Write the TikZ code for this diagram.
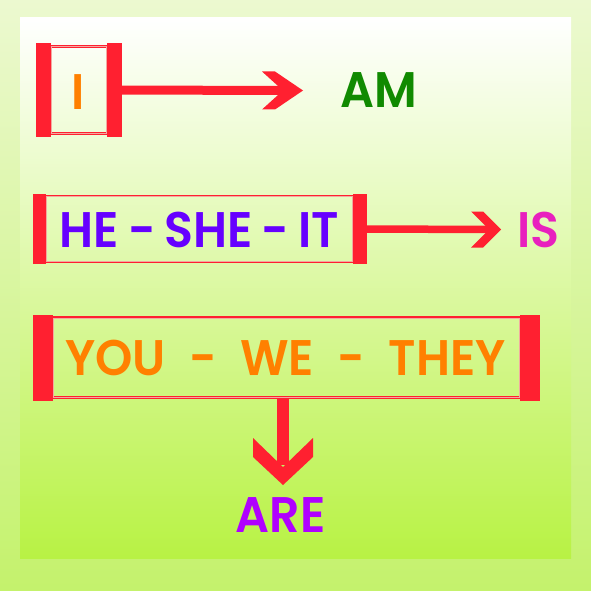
\documentclass[tikz,border=0pt]{standalone}
\usepackage{fontspec}
\setmainfont{Poppins}[BoldFont={* SemiBold}, FakeStretch=0.95]
\begin{document}
\begin{tikzpicture}[x=1pt,y=-1pt]
\definecolor{boxred}{RGB}{255,32,48}
\definecolor{outtop}{RGB}{236,249,208}
\definecolor{outbot}{RGB}{196,242,108}
\definecolor{inbot}{RGB}{184,242,68}
\definecolor{thinpink}{RGB}{242,170,160}
\definecolor{cI}{RGB}{255,128,0}
\definecolor{cAM}{RGB}{16,138,0}
\definecolor{cHE}{RGB}{102,0,255}
\definecolor{cIS}{RGB}{232,32,190}
\definecolor{cYOU}{RGB}{255,128,0}
\definecolor{cARE}{RGB}{176,0,255}
\tikzset{
  frame/.style={draw=boxred, line width=#1, inner sep=0pt, text depth=0pt},
  word/.style={inner sep=0pt, font=\bfseries\fontsize{50}{50}\selectfont, text height=35pt, text depth=0pt},
  conn/.style={draw=boxred, line cap=butt},
  thin/.style={draw=thinpink, line width=0.8pt}
}
\useasboundingbox (0,0) rectangle (591,591);
\shade[top color=outtop, bottom color=outbot] (0,0) rectangle (591,591);
\shade[top color=white, bottom color=inbot] (20,18) rectangle (571,558);

% box I  (outer 37-120 x 45-135)
\node[frame=3pt, minimum width=80pt, minimum height=87pt] (boxI) at (78.5,90) {};
\fill[boxred] ([xshift=-1.5pt,yshift=1.5pt]boxI.north west) rectangle ([xshift=13.5pt,yshift=-1.5pt]boxI.south west);
\fill[boxred] ([xshift=1.5pt,yshift=1.5pt]boxI.north east) rectangle ([xshift=-13.5pt,yshift=-1.5pt]boxI.south east);
\draw[thin] ([xshift=13.9pt,yshift=-1.9pt]boxI.north west) rectangle ([xshift=-13.9pt,yshift=1.9pt]boxI.south east);
\node[word, text=cI] (wI) at (78.5,92.5) {I};

% box II (outer 34-366 x 195-263)
\node[frame=2pt, minimum width=330pt, minimum height=66pt] (boxII) at (200,229) {};
\fill[boxred] ([xshift=-1pt,yshift=1pt]boxII.north west) rectangle ([xshift=12pt,yshift=-1pt]boxII.south west);
\fill[boxred] ([xshift=1pt,yshift=1pt]boxII.north east) rectangle ([xshift=-13pt,yshift=-1pt]boxII.south east);
\draw[thin] ([xshift=12.4pt,yshift=-1.4pt]boxII.north west) rectangle ([xshift=-13.4pt,yshift=1.4pt]boxII.south east);
\node[word, text=cHE] (wHE) at (199.5,230) {HE\hspace{9pt}-\hspace{9pt}SHE\hspace{9pt}-\hspace{9pt}IT};

% box III (outer 34-538 x 316-399)
\node[frame=3pt, minimum width=501pt, minimum height=80pt] (boxIII) at (286,357.5) {};
\fill[boxred] ([xshift=-1.5pt,yshift=1.5pt]boxIII.north west) rectangle ([xshift=18.5pt,yshift=-1.5pt]boxIII.south west);
\fill[boxred] ([xshift=1.5pt,yshift=1.5pt]boxIII.north east) rectangle ([xshift=-18.5pt,yshift=-1.5pt]boxIII.south east);
\draw[thin] ([xshift=18.9pt,yshift=-1.9pt]boxIII.north west) rectangle ([xshift=-18.9pt,yshift=1.9pt]boxIII.south east);
\node[word, text=cYOU] (wYOU) at (285.5,358) {YOU\hspace{23.5pt}-\hspace{23.5pt}WE\hspace{23.5pt}-\hspace{23.5pt}THEY};

% targets
\node[word, text=cAM] (wAM) at (379,90) {AM};
\node[word, text=cIS] (wIS) at (538.5,230) {IS};
\node[word, text=cARE] (wARE) at (280.5,514.5) {ARE};

% connectors
\coordinate (t1) at (303,90.5);
\coordinate (t2) at (501,229.5);
\coordinate (t3) at (283,485);
\draw[conn, line width=9pt] (boxI.east) -- ([xshift=-18pt]t1);
\fill[boxred] (t1) -- ++(-28,-19) -- ++(-13,0) -- ++(21,19) -- ++(-21,19) -- ++(13,0) -- cycle;
\draw[conn, line width=7.5pt] (boxII.east) -- ([xshift=-10pt]t2);
\fill[boxred] (t2) -- ++(-18,-18) -- ++(-12,0) -- ++(18,18) -- ++(-18,18) -- ++(12,0) -- cycle;
\draw[conn, line width=12pt] (boxIII.south -| t3) -- ([yshift=20pt]t3);
\fill[boxred] (t3) -- ++(-30,-28) -- ++(0,-19) -- ++(30,29) -- ++(30,-29) -- ++(0,19) -- cycle;
\end{tikzpicture}
\end{document}
